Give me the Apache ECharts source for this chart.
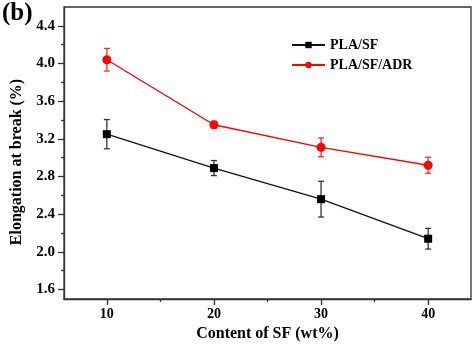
<!DOCTYPE html>
<html>
<head>
<meta charset="utf-8">
<script src="https://cdn.jsdelivr.net/npm/echarts@6/dist/echarts.min.js"></script>
<style>html,body{margin:0;padding:0;background:#fff}#c{width:474px;height:348px}</style>
</head>
<body>
<div id="c"></div>
<script>
var categories = [10, 20, 30, 40];
var plaSF = [3.25, 2.89, 2.56, 2.14];
var plaSFErr = [0.155, 0.08, 0.19, 0.11];
var plaSFADR = [4.04, 3.35, 3.11, 2.92];
var plaSFADRErr = [0.12, 0.035, 0.10, 0.085];
var yTicks = [1.6, 2.0, 2.4, 2.8, 3.2, 3.6, 4.0, 4.4];
var yMinorTicks = [1.8, 2.2, 2.6, 3.0, 3.4, 3.8, 4.2];
var xTicks = [10, 20, 30, 40];
var xMinorTicks = [15, 25, 35];

var FONT = '"Liberation Serif", "Times New Roman", serif';
var chart = echarts.init(document.getElementById('c'));

function pairs(vals) { return categories.map(function (c, i) { return [c, vals[i]]; }); }
function errData(vals, errs) { return categories.map(function (c, i) { return [c, vals[i] - errs[i], vals[i] + errs[i]]; }); }
function errSeries(vals, errs, color) {
  return {
    type: 'custom', xAxisIndex: 0, yAxisIndex: 0, z: 3,
    data: errData(vals, errs),
    renderItem: function (params, api) {
      var lo = api.coord([api.value(0), api.value(1)]);
      var hi = api.coord([api.value(0), api.value(2)]);
      var w = 3;
      var st = { stroke: color, lineWidth: 1.3 };
      return {
        type: 'group',
        children: [
          { type: 'line', shape: { x1: lo[0], y1: lo[1], x2: hi[0], y2: hi[1] }, style: st },
          { type: 'line', shape: { x1: lo[0] - w, y1: lo[1], x2: lo[0] + w, y2: lo[1] }, style: st },
          { type: 'line', shape: { x1: hi[0] - w, y1: hi[1], x2: hi[0] + w, y2: hi[1] }, style: st }
        ]
      };
    }
  };
}

var axisLineStyle = { color: '#333', width: 1.3 };
var option = {
  animation: false,
  title: { text: '(b)', left: -3, top: -4, textStyle: { fontFamily: FONT, fontWeight: 'bold', fontSize: 25, color: '#000' } },
  grid: { left: 64, right: 3, top: 7, bottom: 49, show: true, borderColor: '#333', borderWidth: 1.3 },
  legend: {
    orient: 'vertical', left: 286, top: 33, itemWidth: 33, itemHeight: 8, itemGap: 6,
    textStyle: { fontFamily: FONT, fontWeight: 'bold', fontSize: 14, color: '#000' },
    data: ['PLA/SF', 'PLA/SF/ADR']
  },
  xAxis: [{
    type: 'value', min: 6, max: 44,
    name: 'Content of SF (wt%)', nameLocation: 'middle', nameGap: 24,
    nameTextStyle: { fontFamily: FONT, fontWeight: 'bold', fontSize: 16, color: '#000' },
    axisLine: { lineStyle: axisLineStyle },
    axisTick: { show: true, inside: false, length: 6, customValues: xTicks, lineStyle: axisLineStyle },
    axisLabel: { customValues: xTicks, margin: 8, fontFamily: FONT, fontWeight: 'bold', fontSize: 14, color: '#000' },
    splitLine: { show: false }
  }, {
    type: 'value', min: 6, max: 44, position: 'bottom', gridIndex: 0,
    axisLine: { show: false },
    axisTick: { show: true, inside: false, length: 3, customValues: xMinorTicks, lineStyle: axisLineStyle },
    axisLabel: { show: false }, splitLine: { show: false }
  }],
  yAxis: [{
    type: 'value', min: 1.5, max: 4.6, position: 'left',
    name: 'Elongation at break (%)', nameLocation: 'middle', nameGap: 39,
    nameTextStyle: { fontFamily: FONT, fontWeight: 'bold', fontSize: 16, color: '#000', padding: [0, 18, 0, 0] },
    axisLine: { show: true, lineStyle: axisLineStyle },
    axisTick: { show: true, inside: false, length: 6, customValues: yTicks, lineStyle: axisLineStyle },
    axisLabel: { customValues: yTicks, margin: 9, fontFamily: FONT, fontWeight: 'bold', fontSize: 15, color: '#000',
      formatter: function (v) { return v.toFixed(1); } },
    splitLine: { show: false }
  }, {
    type: 'value', min: 1.5, max: 4.6, position: 'left',
    axisLine: { show: false },
    axisTick: { show: true, inside: false, length: 3, customValues: yMinorTicks, lineStyle: axisLineStyle },
    axisLabel: { show: false }, splitLine: { show: false }
  }],
  series: [
    errSeries(plaSF, plaSFErr, '#333'),
    errSeries(plaSFADR, plaSFADRErr, '#e83030'),
    {
      name: 'PLA/SF', type: 'line', data: pairs(plaSF), z: 4,
      symbol: 'rect', symbolSize: 8, color: '#000',
      lineStyle: { color: '#111', width: 1.3 }, itemStyle: { color: '#000' }
    },
    {
      name: 'PLA/SF/ADR', type: 'line', data: pairs(plaSFADR), z: 4,
      symbol: 'circle', symbolSize: 9, color: '#ff0000',
      lineStyle: { color: '#ff0000', width: 1.3 }, itemStyle: { color: '#ff0000' }
    }
  ]
};
chart.setOption(option);
</script>
</body>
</html>
